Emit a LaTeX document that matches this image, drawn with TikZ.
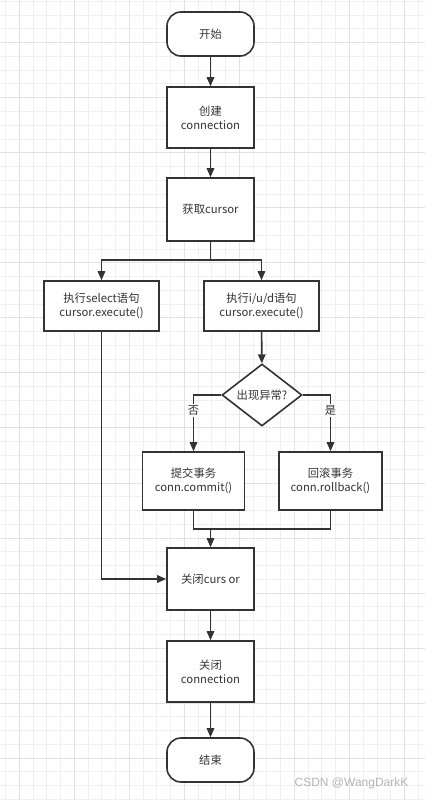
\documentclass[tikz,border=0pt]{standalone}
\usepackage{fontspec}
\usepackage{tikz}
\usetikzlibrary{arrows.meta,shapes,positioning,backgrounds}
\newfontfamily\cjk{Noto Sans CJK SC}
\newfontfamily\markfont{Liberation Sans}
\definecolor{ink}{HTML}{333333}
\definecolor{gridminor}{HTML}{F0F0F0}
\definecolor{gridmajor}{HTML}{E2E2E2}
\definecolor{markgray}{HTML}{B4B4B4}
\tikzset{
  box/.style={draw=ink, line width=1.6pt, fill=white, text=ink, align=center,
    font=\cjk\fontsize{11.3}{14}\selectfont, inner sep=0pt},
  term/.style={box, rounded corners=14pt},
  decision/.style={box, diamond, minimum width=80pt, minimum height=62pt},
  line/.style={draw=ink, line width=1.6pt},
  arr/.style={line, -{Triangle[length=9pt,width=7.5pt]}},
  lbl/.style={fill=white, text=ink, font=\cjk\fontsize{11.3}{14}\selectfont, inner sep=1.5pt}
}
\begin{document}
\begin{tikzpicture}[x=1pt,y=1pt]
  \useasboundingbox (0,0) rectangle (425,-800);
  % grid
  \fill[white] (0,0) rectangle (425,-800);
  \foreach \i in {0,...,30} {
    \pgfmathsetmacro{\gx}{5.5+13.76*\i}
    \draw[gridminor, line width=1pt] (\gx,0) -- (\gx,-800);
  }
  \foreach \i in {0,...,58} {
    \pgfmathsetmacro{\gy}{1.4+13.76*\i}
    \draw[gridminor, line width=1pt] (0,-\gy) -- (425,-\gy);
  }
  \foreach \i in {0,...,7} {
    \pgfmathsetmacro{\gx}{19.3+55.04*\i}
    \draw[gridmajor, line width=1pt] (\gx,0) -- (\gx,-800);
  }
  \foreach \i in {0,...,14} {
    \pgfmathsetmacro{\gy}{42.7+55.04*\i}
    \draw[gridmajor, line width=1pt] (0,-\gy) -- (425,-\gy);
  }
  % nodes
  \node[term, minimum width=87pt, minimum height=44pt] (start) at (210.5,-34) {开始};
  \node[box, minimum width=87pt, minimum height=61pt] (create) at (210.5,-117.5) {创建\\connection};
  \node[box, minimum width=87pt, minimum height=63pt] (getcur) at (210.5,-209.5) {获取cursor};
  \node[box, minimum width=115pt, minimum height=50pt] (sel) at (101.5,-306) {执行select语句\\cursor.execute()};
  \node[box, minimum width=115pt, minimum height=50pt] (iud) at (261.5,-306) {执行i/u/d语句\\cursor.execute()};
  \node[decision] (err) at (262,-395) {出现异常?};
  \node[box, minimum width=102pt, minimum height=58pt] (commit) at (193.5,-481) {提交事务\\conn.commit()};
  \node[box, minimum width=103pt, minimum height=58pt] (rollback) at (330.5,-481) {回滚事务\\conn.rollback()};
  \node[box, minimum width=87pt, minimum height=62pt] (closecur) at (210.5,-579) {关闭curs or};
  \node[box, minimum width=87pt, minimum height=61pt] (closecon) at (210.5,-671.5) {关闭\\connection};
  \node[term, minimum width=87pt, minimum height=44pt] (stop) at (210.5,-760) {结束};
  \node[text=markgray, font=\markfont\fontsize{12}{14}\selectfont, inner sep=0pt] (mark) at (351.5,-783) {CSDN @WangDarkK};
  \coordinate (split) at (210.5,-260);
  \coordinate (join) at (210.5,-529);
  % connectors
  \draw[arr] (start) -- (create);
  \draw[arr] (create) -- (getcur);
  \draw[line] (getcur) -- (split);
  \draw[arr] (split) -| (sel);
  \draw[arr] (split) -| (iud);
  \draw[arr] (iud) -- (err);
  \draw[arr] (err.west) -| node[lbl, pos=0.64] {否} (commit);
  \draw[arr] (err.east) -| node[lbl, pos=0.64] {是} (rollback);
  \draw[line] (commit.south) |- (join);
  \draw[line] (rollback.south) |- (join);
  \draw[arr] (join) -- (closecur);
  \draw[arr] (sel.south) |- (closecur.west);
  \draw[arr] (closecur) -- (closecon);
  \draw[arr] (closecon) -- (stop);
\end{tikzpicture}
\end{document}
